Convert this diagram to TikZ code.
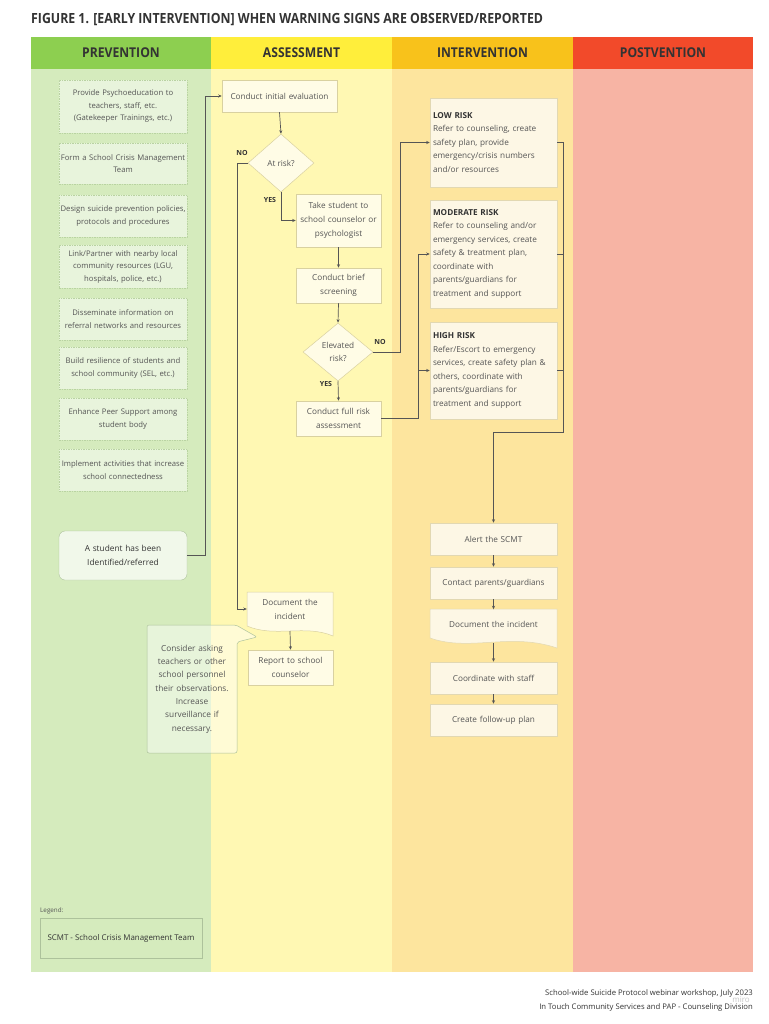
\documentclass[tikz,border=0pt]{standalone}
\usepackage{fontspec}
\setmainfont{Open Sans}
\newfontfamily\condfont[FakeStretch=0.88]{Open Sans}
\newfontfamily\hdrfont[FakeStretch=0.9]{Open Sans}
\usetikzlibrary{shapes.geometric,arrows.meta,calc}
\definecolor{hgreen}{HTML}{8DCF50}
\definecolor{hyellow}{HTML}{FFEE3B}
\definecolor{horange}{HTML}{F8C21B}
\definecolor{hred}{HTML}{F24A2A}
\definecolor{bgreen}{HTML}{D5EBBD}
\definecolor{byellow}{HTML}{FFF8B3}
\definecolor{borange}{HTML}{FDE59E}
\definecolor{bred}{HTML}{F7B4A4}
\definecolor{txt}{HTML}{555555}
\definecolor{dark}{HTML}{333333}
\definecolor{linec}{HTML}{555555}
\definecolor{pfill}{HTML}{E8F4DC}
\definecolor{pdraw}{HTML}{B9D3A2}
\definecolor{afill}{HTML}{FFFCE6}
\definecolor{adraw}{HTML}{D9D1A0}
\definecolor{ifill}{HTML}{FDF7E5}
\definecolor{idraw}{HTML}{E2D8B2}
\begin{document}
\begin{tikzpicture}[x=1pt,y=-1pt,
  hdr/.style={font=\hdrfont\fontsize{13.5}{15}\selectfont\bfseries, text=dark},
  prevbox/.style={draw=pdraw, dashed, dash pattern=on 1.5pt off 1pt, fill=pfill, minimum width=128pt, text width=128pt, align=center, inner sep=0pt, text=txt, font=\fontsize{7.7}{12.5}\selectfont},
  abox/.style={draw=adraw, line width=0.5pt, fill=afill, minimum width=85pt, text width=83pt, align=center, inner sep=0pt, text=txt, font=\fontsize{8.2}{14}\selectfont},
  ibox/.style={draw=idraw, line width=0.5pt, fill=ifill, minimum width=127pt, text width=121pt, align=center, inner sep=0pt, minimum height=32pt, text=txt, font=\fontsize{8.2}{13.5}\selectfont},
  riskbox/.style={ibox, align=left, text width=121pt},
  decide/.style={diamond, draw=adraw, line width=0.5pt, fill=afill, inner sep=0pt, align=center, text=txt, font=\fontsize{8.2}{13}\selectfont},
  lbl/.style={font=\fontsize{7}{8}\selectfont\bfseries, text=dark},
  conn/.style={draw=linec, line width=0.7pt, -{Stealth[length=3.5pt,width=3pt]}},
  plain/.style={draw=linec, line width=0.7pt},
  docshape/.style={draw=idraw, line width=0.5pt, fill=ifill}
]
\useasboundingbox (0,0) rectangle (768,1024);
\fill[white] (0,0) rectangle (768,1024);

% title
\node[anchor=west, font=\condfont\fontsize{14}{16}\selectfont\bfseries, text=dark, inner sep=0pt] (title) at (31,20) {FIGURE 1. [EARLY INTERVENTION] WHEN WARNING SIGNS ARE OBSERVED/REPORTED};

% columns
\fill[bgreen] (31,69) rectangle (211,972);
\fill[byellow] (211,69) rectangle (392,972);
\fill[borange] (392,69) rectangle (573,972);
\fill[bred] (573,69) rectangle (753,972);
\fill[hgreen] (31,37) rectangle (211,69);
\fill[hyellow] (211,37) rectangle (392,69);
\fill[horange] (392,37) rectangle (573,69);
\fill[hred] (573,37) rectangle (753,69);
\node[hdr] (h1) at (121,53) {PREVENTION};
\node[hdr] (h2) at (301.5,53) {ASSESSMENT};
\node[hdr] (h3) at (482.5,53) {INTERVENTION};
\node[hdr] (h4) at (663,53) {POSTVENTION};

% prevention
\node[prevbox, minimum height=53pt] (p1) at (123,106.5) {Provide Psychoeducation to\\teachers, staff, etc.\\(Gatekeeper Trainings, etc.)};
\node[prevbox, minimum height=41pt] (p2) at (123,163.5) {Form a School Crisis Management\\Team};
\node[prevbox, minimum height=42pt] (p3) at (123,216) {Design suicide prevention policies,\\protocols and procedures};
\node[prevbox, minimum height=43pt] (p4) at (123,266.5) {Link/Partner with nearby local\\community resources (LGU,\\hospitals, police, etc.)};
\node[prevbox, minimum height=42pt] (p5) at (123,319) {Disseminate information on\\referral networks and resources};
\node[prevbox, minimum height=42pt] (p6) at (123,368) {Build resilience of students and\\school community (SEL, etc.)};
\node[prevbox, minimum height=42pt] (p7) at (123,419) {Enhance Peer Support among\\student body};
\node[prevbox, minimum height=42pt] (p8) at (123,470) {Implement activities that increase\\school connectedness};
\node[prevbox, solid, draw=pdraw!80!gray, fill=pfill!60!white, rounded corners=6pt, minimum height=49pt, font=\fontsize{8.3}{14}\selectfont, text=dark] (student) at (123,555.5) {A student has been\\Identified/referred};

% assessment
\node[abox, minimum width=115pt, text width=113pt, minimum height=32pt] (eval) at (279.5,96) {Conduct initial evaluation};
\node[decide, minimum width=66pt, minimum height=58pt] (atrisk) at (281,163) {At risk?};
\node[abox, minimum height=53pt] (take) at (338.5,220.5) {Take student to\\school counselor or\\psychologist};
\node[abox, minimum height=35pt] (brief) at (338.5,285.5) {Conduct brief\\screening};
\node[decide, minimum width=70pt, minimum height=58pt, font=\fontsize{8.2}{13}\selectfont] (elev) at (338,352) {Elevated\\risk?};
\node[abox, minimum height=35pt] (full) at (338.5,418.5) {Conduct full risk\\assessment};

% document (assessment)
\filldraw[draw=adraw, line width=0.5pt, fill=afill] (247,592) -- (333,592) -- (333,636) .. controls (305,624) and (275,638) .. (247,626) -- cycle;
\node[inner sep=0pt, text width=84pt, align=center, text=txt, font=\fontsize{8.2}{14}\selectfont, minimum height=34pt, minimum width=86pt] (doc1) at (290,609) {Document the\\incident};
\coordinate (doc1b) at (290,631);
\node[abox, minimum height=35pt] (report) at (290.5,667.5) {Report to school\\counselor};

% callout
\filldraw[draw=pdraw!80!gray, line width=0.5pt, fill=white, fill opacity=0.45, rounded corners=2pt] (147,625) -- (236,625) -- (257,637) -- (237,642) -- (237,753) -- (147,753) -- cycle;
\node[text width=90pt, align=center, inner sep=0pt, text=txt, font=\fontsize{8.3}{13.3}\selectfont] (callout) at (192,689) {Consider asking\\teachers or other\\school personnel\\their observations.\\Increase\\surveillance if\\necessary.};

% intervention
\node[riskbox, minimum height=89pt] (low) at (493.5,142.5) {\textbf{\color{dark}LOW RISK}\\Refer to counseling, create\\safety plan, provide\\emergency/crisis numbers\\and/or resources};
\node[riskbox, minimum height=108pt] (mod) at (493.5,254) {\textbf{\color{dark}MODERATE RISK}\\Refer to counseling and/or\\emergency services, create\\safety \& treatment plan,\\coordinate with\\parents/guardians for\\treatment and support};
\node[riskbox, minimum height=97pt] (high) at (493.5,370.5) {\textbf{\color{dark}HIGH RISK}\\Refer/Escort to emergency\\services, create safety plan \&\\others, coordinate with\\parents/guardians for\\treatment and support};

\node[ibox] (alert) at (493.5,539) {Alert the SCMT};
\node[ibox] (contact) at (493.5,583) {Contact parents/guardians};
\filldraw[docshape] (430,609) -- (557,609) -- (557,648) .. controls (510,632) and (470,652) .. (430,638) -- cycle;
\node[inner sep=0pt, text width=121pt, align=center, text=txt, font=\fontsize{8.2}{13.5}\selectfont, minimum width=127pt, minimum height=30pt] (doc2) at (493.5,624.5) {Document the incident};
\coordinate (doc2b) at (493.5,642.5);
\node[ibox] (coord) at (493.5,678) {Coordinate with staff};
\node[ibox] (follow) at (493.5,720) {Create follow-up plan};

% connectors
\draw[conn] (student.east) -- ++(18,0) |- (eval.west);
\draw[conn] (eval.south) -- (atrisk.north);
\draw[conn] (atrisk.south) |- (take.west);
\draw[conn] (take.south) -- (brief.north);
\draw[conn] (brief.south) -- (elev.north);
\draw[conn] (elev.south) -- (full.north);
\draw[conn] (elev.east) -- ++(27,0) |- (low.west);
\coordinate (j1) at ($(full.east)+(37,0)$);
\draw[conn] (full.east) -- (j1) |- (mod.west);
\draw[conn] (j1) |- (high.west);
\draw[conn] (atrisk.west) -- ++(-10,0) |- (doc1.west);
\draw[conn] (doc1b) -- (report.north);

\coordinate (rv) at ($(low.east)+(6,0)$);
\draw[plain] (low.east) -- (rv);
\draw[plain] (mod.east) -- (mod.east -| rv);
\draw[plain] (high.east) -- (high.east -| rv);
\coordinate (bend) at ($(high.south -| rv)+(0,13)$);
\draw[conn] (rv) -- (bend) -| (alert.north);
\draw[conn] (alert.south) -- (contact.north);
\draw[conn] (contact.south) -- (doc2.north);
\draw[conn] (doc2b) -- (coord.north);
\draw[conn] (coord.south) -- (follow.north);

% labels
\node[lbl] (noA) at (242,153) {NO};
\node[lbl] (yesA) at (270,200) {YES};
\node[lbl] (noB) at (380,342) {NO};
\node[lbl] (yesB) at (326,384) {YES};

% legend
\node[anchor=west, inner sep=0pt, text=txt, font=\fontsize{6.3}{7}\selectfont] (legendt) at (40,911) {Legend:};
\node[draw=pdraw!80!gray, line width=0.5pt, minimum width=162pt, minimum height=40pt, inner sep=0pt, text=dark, font=\fontsize{7.9}{9}\selectfont] (legend) at (121,938) {SCMT - School Crisis Management Team};

% footer
\node[anchor=east, inner sep=0pt, text=dark, font=\fontsize{7.7}{9}\selectfont] (f1) at (753,993) {School-wide Suicide Protocol webinar workshop, July 2023};
\node[anchor=east, inner sep=0pt, text=dark, font=\fontsize{7.7}{9}\selectfont] (f2) at (753,1007) {In Touch Community Services and PAP - Counseling Division};
\node[inner sep=0pt, text=gray!45, font=\fontsize{8}{9}\selectfont] (miro) at (741,1000) {miro};
\end{tikzpicture}
\end{document}
